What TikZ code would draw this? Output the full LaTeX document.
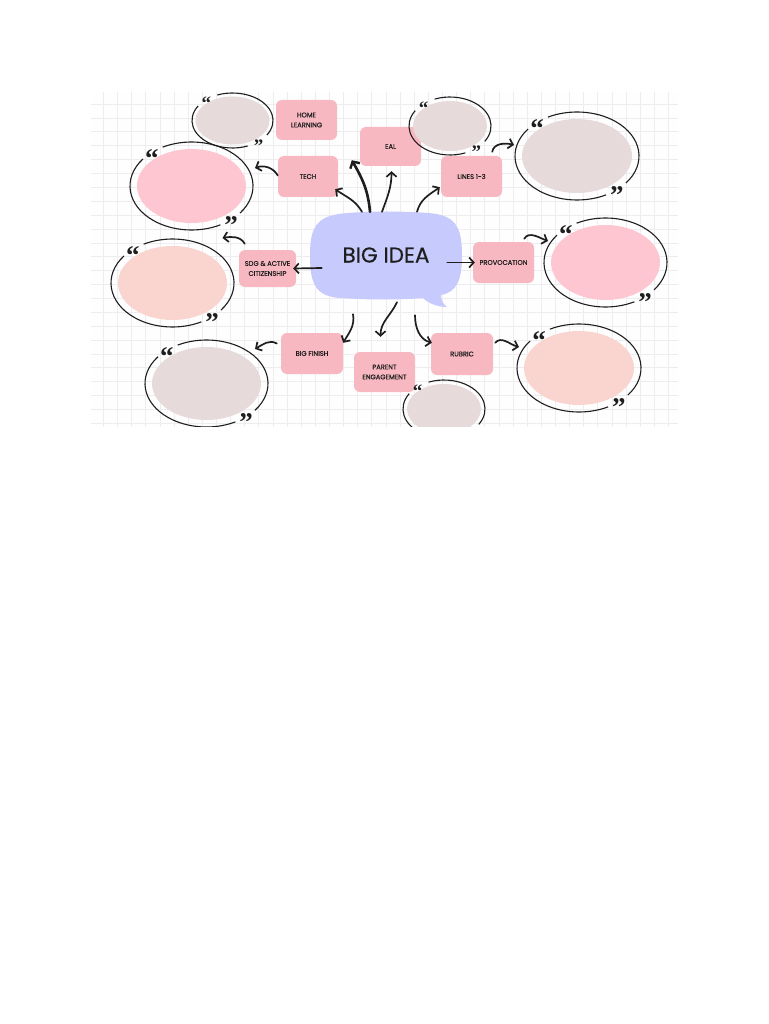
\documentclass[tikz,border=0pt]{standalone}
\usepackage{fontspec}
\setmainfont{Poppins}
\newfontfamily\handfont{Poppins}[FakeBold=0.5]
\newfontfamily\quotefont{Liberation Serif}
\usetikzlibrary{arrows.meta,calc,shapes.geometric}
\definecolor{bubblec}{HTML}{C7CAFC}
\definecolor{boxc}{HTML}{F8B8C1}
\definecolor{greyp}{HTML}{E6DADB}
\definecolor{pinkc}{HTML}{FDC6D1}
\definecolor{peach}{HTML}{FAD4CE}
\definecolor{gridc}{HTML}{EDEDEF}
\definecolor{inkc}{HTML}{1E1E1E}
% #1 name, #2 cx, #3 cy (screen), #4 rx, #5 ry, #6 fill, #7 shrink, #8 gap, #9 quote size
\newcommand\qell[9]{%
  \node[ellnode, minimum width=2*#4, minimum height=2*#5] (#1) at (#2,-#3) {};
  \fill[#6] (#1.center) ellipse [x radius=#4-#7, y radius=#5-#7];
  \pgfmathsetmacro\qaA{-50+#8}\pgfmathsetmacro\qaB{130-#8}%
  \pgfmathsetmacro\qaC{130+#8}\pgfmathsetmacro\qaD{310-#8}%
  \draw[outl] (#1.center) ++(\qaA:#4 and #5) arc[start angle=\qaA, end angle=\qaB, x radius=#4, y radius=#5];
  \draw[outl] (#1.center) ++(\qaC:#4 and #5) arc[start angle=\qaC, end angle=\qaD, x radius=#4, y radius=#5];
  \node[qmark, font=\quotefont\bfseries\fontsize{#9}{#9}\selectfont, yshift={-0.22*#9}] at ($(#1.center)+(130:#4 and #5)$) {“};
  \node[qmark, font=\quotefont\bfseries\fontsize{#9}{#9}\selectfont, yshift={-0.22*#9}] at ($(#1.center)+(-50:#4 and #5)$) {”};
}
\begin{document}
\begin{tikzpicture}[x=1pt,y=1pt,
  box/.style={fill=boxc, rounded corners=6pt, inner sep=0pt, align=center,
    font=\handfont\fontsize{6.7}{10}\selectfont, text=inkc},
  outl/.style={line width=1.1pt, inkc},
  qmark/.style={inner sep=0pt, text=inkc},
  ellnode/.style={ellipse, inner sep=0pt, draw=none},
  arr/.style={line width=1.7pt, inkc, line cap=round,
    -{Straight Barb[length=4.5pt,width=10pt,line width=1.7pt]}},
  arrthick/.style={line width=2.6pt, inkc, line cap=round,
    -{Straight Barb[length=5pt,width=11pt,line width=2.4pt]}},
]
\useasboundingbox (0,0) rectangle (768,-1024);
\fill[white] (0,0) rectangle (768,-1024);
\begin{scope}
\clip (91,-92) rectangle (678,-426);
\fill[white!99!gray] (91,-92) rectangle (678,-426);
\foreach \i in {0,...,40} \draw[gridc, line width=0.6pt] ({103.3+14.125*\i},-92) -- ++(0,-336);
\foreach \j in {0,...,23} \draw[gridc, line width=0.6pt] (91,{-104-13.88*\j}) -- ++(587,0);

% speech bubble
\fill[bubblec] (310,-255)
 .. controls (310,-225) and (318,-215) .. (348,-213)
 .. controls (375,-211) and (400,-211) .. (428,-213)
 .. controls (455,-215) and (462,-226) .. (462,-255)
 .. controls (462,-280) and (457,-292) .. (441,-295)
 .. controls (441,-300) and (443,-304) .. (447,-307)
 .. controls (437,-307) and (428,-303) .. (423,-298)
 .. controls (400,-300) and (370,-300) .. (340,-298)
 .. controls (316,-296) and (310,-285) .. (310,-255) -- cycle;
\node[minimum width=152pt, minimum height=86pt, inner sep=0pt, text=inkc,
  font=\handfont\fontsize{21.5}{24}\selectfont] (big) at (386,-255) {BIG IDEA};

% boxes
\node[box, minimum width=61pt, minimum height=40pt] (home) at (306.5,-120) {HOME\\LEARNING};
\node[box, minimum width=60pt, minimum height=41pt] (tech) at (308,-176.5) {TECH};
\node[box, minimum width=61pt, minimum height=39pt] (eal) at (390.5,-146.5) {EAL};
\node[box, minimum width=61pt, minimum height=41pt] (lines) at (471.5,-176.5) {LINES 1-3};
\node[box, minimum width=61pt, minimum height=41pt] (prov) at (503.5,-262.5) {PROVOCATION};
\node[box, minimum width=57pt, minimum height=37pt] (sdg) at (267.5,-268.5) {SDG \& ACTIVE\\CITIZENSHIP};
\node[box, minimum width=62pt, minimum height=41pt] (bf) at (312,-353.5) {BIG FINISH};
\node[box, minimum width=61pt, minimum height=40pt] (pe) at (384.5,-372) {PARENT\\ENGAGEMENT};
\node[box, minimum width=62pt, minimum height=42pt] (rub) at (462,-354) {RUBRIC};

% ellipses
\qell{e1}{232.5}{120.5}{40.5}{27.5}{greyp}{3.5}{18}{19}
\qell{e2}{191.5}{186}{61.5}{44}{pinkc}{7}{12}{27}
\qell{e3}{172.5}{283}{61.5}{44}{peach}{7}{12}{27}
\qell{e4}{206.5}{383.5}{61.5}{43.5}{greyp}{7}{12}{27}
\qell{e5}{450}{126}{41}{29}{greyp}{4}{18}{19}
\qell{e6}{577}{156}{62}{44}{greyp}{7}{12}{27}
\qell{e7}{605.5}{262.5}{61.5}{44.5}{pinkc}{7}{12}{27}
\qell{e8}{579}{368}{62}{44}{peach}{7}{12}{27}
\qell{e9}{444}{409}{41}{29}{greyp}{4}{18}{19}

% arrows from the big idea
\draw[arr] ([xshift=-24pt]big.north) to[out=120,in=-35] ([xshift=-3pt,yshift=8pt]tech.south east);
\draw[arrthick] ([xshift=-16pt]big.north) to[out=95,in=-60] ([xshift=-8pt,yshift=6pt]eal.south west);
\draw[arr] ([xshift=-4pt]big.north) to[out=70,in=-90] ([xshift=1pt,yshift=-5pt]eal.south);
\draw[arr] ([xshift=31pt]big.north) to[out=75,in=-145] ([xshift=-1pt,yshift=10pt]lines.south west);
\draw[arr] ([xshift=-15pt,yshift=-7.5pt]big.east) -- ([xshift=2pt]prov.west);
\draw[arr] ([xshift=12pt,yshift=-13pt]big.west) -- ([xshift=-3pt]sdg.east);
\draw[arr] ([xshift=-33pt,yshift=-16pt]big.south) to[out=-80,in=60] ([yshift=-10pt]bf.north east);
\draw[arr] ([xshift=11pt,yshift=-4pt]big.south) to[out=-115,in=90] ([xshift=-4pt,yshift=15pt]pe.north);
\draw[arr] ([xshift=29pt,yshift=-17pt]big.south) to[out=-90,in=165] ([xshift=1pt,yshift=-10pt]rub.north west);

% arrows from boxes to ellipses
\draw[arr] ([yshift=1pt]tech.west) to[out=120,in=20] ([xshift=63.5pt,yshift=18pt]e2.center);
\draw[arr] ([xshift=6pt,yshift=6pt]sdg.north west) to[out=120,in=10] ([xshift=50pt,yshift=45pt]e3.center);
\draw[arr] ([xshift=-4pt,yshift=10pt]bf.west) to[out=150,in=30] ([xshift=48.5pt,yshift=34.5pt]e4.center);
\draw[arr] ([xshift=-10pt,yshift=4pt]lines.north east) to[out=80,in=165] ([xshift=-63pt,yshift=11pt]e6.center);
\draw[arr] ([xshift=-10pt,yshift=3pt]prov.north east) to[out=60,in=160] ([xshift=-57.5pt,yshift=21.5pt]e7.center);
\draw[arr] ([xshift=2pt,yshift=-10pt]rub.north east) to[out=50,in=165] ([xshift=-60pt,yshift=21pt]e8.center);
\end{scope}
\end{tikzpicture}
\end{document}
